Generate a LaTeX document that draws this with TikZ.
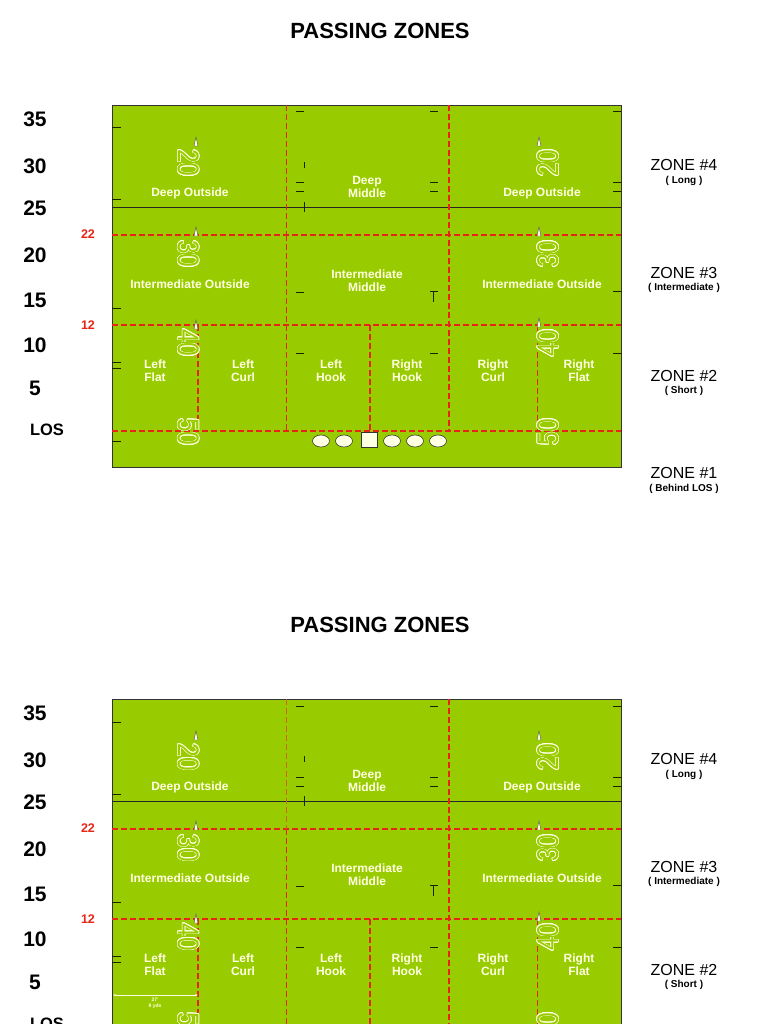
\documentclass[tikz,border=0pt]{standalone}
\usetikzlibrary{shapes.geometric,arrows.meta}
\usepackage{fontspec}
\setmainfont{Liberation Sans}
\newfontfamily\yardfont[FakeStretch=0.82]{Liberation Sans}
\usepackage{contour}
\contourlength{0.6pt}
\definecolor{fieldgreen}{RGB}{153,204,0}
\definecolor{zred}{RGB}{232,36,20}
\definecolor{zorange}{RGB}{205,105,20}
\definecolor{cream}{RGB}{255,255,225}
\definecolor{tickc}{RGB}{25,35,0}
\tikzset{
 fieldbox/.style={fill=fieldgreen, draw=black!80, line width=1.2pt, inner sep=0pt, anchor=north west},
 reddash/.style={draw=zred, dash pattern=on 6pt off 3pt, line width=1.3pt},
 reddashthin/.style={reddash, line width=0.9pt},
 reddashthick/.style={reddash, line width=1.8pt},
 hash/.style={draw=tickc, line width=1pt},
 zonelbl/.style={text=cream, font=\bfseries\fontsize{12}{13}\selectfont, align=center, inner sep=0pt},
 yardnum/.style={inner sep=0pt, text=fieldgreen, font=\yardfont\fontsize{30}{30}\selectfont},
 marker/.style={fill=cream, draw=black!80, line width=0.6pt},
 tri/.style={fill=cream, draw=black!70, line width=0.4pt},
 titlelbl/.style={font=\bfseries\fontsize{22}{24}\selectfont, inner sep=0pt},
 scalelbl/.style={font=\bfseries\fontsize{21}{22}\selectfont, inner sep=0pt},
 redlbl/.style={text=zred, font=\bfseries\fontsize{12.5}{13}\selectfont, inner sep=0pt},
 zonehead/.style={font=\fontsize{16}{17}\selectfont, inner sep=0pt},
 zonesub/.style={font=\bfseries\fontsize{10}{11}\selectfont, inner sep=0pt},
}
\newcommand\zonefig[2]{%
 \node[titlelbl] (title) at (380,31) {PASSING ZONES};
 \node[fieldbox, minimum width=509pt, minimum height=362pt] (fld) at (112,105) {};
 % yard line (25)
 \draw[black!85, line width=0.9pt] (112,207) -- (621,207);
 % zone boundaries
 \draw[reddash] (112,235) -- (621,235);
 \draw[reddashthick] (112,325) -- (621,325);
 \draw[reddash] (112,431) -- (621,431);
 \draw[reddashthin, draw=#1] (286,105) -- (286,235);
 \draw[reddashthin] (286,235) -- (286,431);
 \draw[reddashthick] (449,105) -- (449,431);
 \draw[reddashthick] (198,325) -- (198,431);
 \draw[reddash] (370,325) -- (370,431);
 \draw[reddashthin] (537,325) -- (537,431);
 % hash marks
 \foreach \yy in {128,200,308,362,368,441} \draw[hash] (112,\yy) -- (121,\yy);
 \foreach \yy in {112,183,192,292,353} \draw[hash] (296,\yy) -- (304,\yy);
 \draw[hash] (304,162) -- (304,168);
 \draw[hash] (304,202) -- (304,212);
 \foreach \yy in {112,183,192,291,353} \draw[hash] (430,\yy) -- (438,\yy);
 \draw[hash] (433,291) -- (433,302);
 \foreach \yy in {112,183,192,291,353} \draw[hash] (613,\yy) -- (621,\yy);
 % yard numbers
 \node[yardnum, rotate=-90] (l20) at (188,163) {\contour{cream}{20}};
 \node[yardnum, rotate=-90] (l30) at (188,254) {\contour{cream}{30}};
 \node[yardnum, rotate=-90] (l40) at (188,343) {\contour{cream}{40}};
 \node[yardnum, rotate=-90] (l50) at (188,432) {\contour{cream}{50}};
 \node[yardnum, rotate=90] (r20) at (548,163) {\contour{cream}{20}};
 \node[yardnum, rotate=90] (r30) at (548,254) {\contour{cream}{30}};
 \node[yardnum, rotate=90] (r40) at (548,343) {\contour{cream}{40}};
 \node[yardnum, rotate=90] (r50) at (548,432) {\contour{cream}{50}};
 % direction arrows
 \foreach \yy in {137,227,320} \draw[tri] (196,\yy) -- (194,\yy+9) -- (198,\yy+9) -- cycle;
 \foreach \yy in {137,227,318} \draw[tri] (539,\yy) -- (537,\yy+9) -- (541,\yy+9) -- cycle;
 % zone names
 \node[zonelbl] (dol) at (190,193) {Deep Outside};
 \node[zonelbl] (dm) at (367,187) {Deep\\Middle};
 \node[zonelbl] (dor) at (542,193) {Deep Outside};
 \node[zonelbl] (iol) at (190,284) {Intermediate Outside};
 \node[zonelbl] (im) at (367,281) {Intermediate\\Middle};
 \node[zonelbl] (ior) at (542,284) {Intermediate Outside};
 \node[zonelbl] (lf) at (155,371) {Left\\Flat};
 \node[zonelbl] (lc) at (243,371) {Left\\Curl};
 \node[zonelbl] (lh) at (331,371) {Left\\Hook};
 \node[zonelbl] (rh) at (407,371) {Right\\Hook};
 \node[zonelbl] (rc) at (493,371) {Right\\Curl};
 \node[zonelbl] (rf) at (579,371) {Right\\Flat};
 % offensive formation
 \foreach \xx/\nm in {321/p1,344/p2,392/p3,415/p4,438/p5}
   \node[marker, ellipse, minimum width=17pt, minimum height=12pt, inner sep=0pt] (\nm) at (\xx,441) {};
 \node[marker, rectangle, minimum width=16pt, minimum height=15pt, inner sep=0pt] (qb) at (369,440) {};
 % yard scale
 \node[scalelbl] (s35) at (35,119) {35};
 \node[scalelbl] (s30) at (35,166) {30};
 \node[scalelbl] (s25) at (35,208) {25};
 \node[scalelbl] (s20) at (35,255) {20};
 \node[scalelbl] (s15) at (35,300) {15};
 \node[scalelbl] (s10) at (35,345) {10};
 \node[scalelbl] (s5) at (35,388) {5};
 \node[font=\bfseries\fontsize{16.5}{17}\selectfont, inner sep=0pt] (slos) at (47,430) {LOS};
 \node[redlbl] (r22) at (88,234) {22};
 \node[redlbl] (r12) at (88,325) {12};
 % zone headings
 \node[zonehead] (z4) at (684,165) {ZONE \#4};
 \node[zonesub] (z4s) at (684,181) {( Long )};
 \node[zonehead] (z3) at (684,273) {ZONE \#3};
 \node[zonesub] (z3s) at (684,288) {( Intermediate )};
 \node[zonehead] (z2) at (684,376) {ZONE \#2};
 \node[zonesub] (z2s) at (684,391) {( Short )};
 \node[zonehead] (z1) at (684,473) {ZONE \#1};
 \node[zonesub] (z1s) at (684,489) {( Behind LOS )};
 #2%
}
\begin{document}
\begin{tikzpicture}[x=1pt,y=-1pt]
\useasboundingbox (0,0) rectangle (768,1024);
\clip (0,0) rectangle (768,1024);
\fill[white] (0,0) rectangle (768,1024);
\begin{scope}[name prefix=top-]
 \zonefig{zred}{}
\end{scope}
\begin{scope}[shift={(0,594)}, name prefix=bot-]
 \zonefig{zorange}{%
  \coordinate (wl) at (113,401);
  \coordinate (wr) at (198,401);
  \draw[cream, line width=0.8pt, {Stealth[length=3pt]}-{Stealth[length=3pt]}] (wl) -- (wr);
  \node[text=cream, font=\bfseries\fontsize{5}{6}\selectfont, align=center, inner sep=0pt] (wid) at (155,409) {27'\\9 yds};
 }
\end{scope}
\end{tikzpicture}
\end{document}
